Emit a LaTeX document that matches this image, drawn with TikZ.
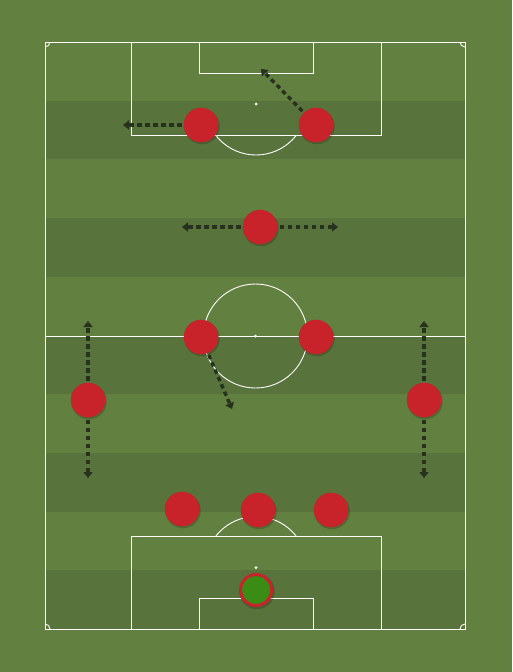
\documentclass[tikz,border=0pt]{standalone}
\usetikzlibrary{arrows.meta}
\definecolor{grassL}{HTML}{62803F}
\definecolor{grassD}{HTML}{58733C}
\definecolor{pred}{HTML}{C8222B}
\definecolor{gkgreen}{HTML}{3A8C14}
\definecolor{arrowc}{HTML}{26321E}
\tikzset{
  pitchline/.style={draw=white, line width=0.9pt},
  player/.style={circle, fill=pred, minimum size=34.6pt, inner sep=0pt},
  keeper/.style={circle, fill=gkgreen, draw=pred, line width=3pt, minimum size=31pt, inner sep=0pt},
  shade/.style={circle, fill=black, opacity=0.18, minimum size=35.5pt, inner sep=0pt},
  run/.style={draw=arrowc, line width=3.4pt, dash pattern=on 4.5pt off 3.5pt,
     -{Triangle[length=6pt,width=9pt]}, shorten <=2pt},
  spot/.style={circle, fill=white, minimum size=3pt, inner sep=0pt}
}
\begin{document}
\begin{tikzpicture}[x=1pt,y=-1pt]
\useasboundingbox (0,0) rectangle (512,672);
\fill[grassL] (0,0) rectangle (512,672);
% stripes
\foreach \i in {1,3,5,7,9}{
  \fill[grassD] (45,{42+\i*58.7}) rectangle (465,{42+(\i+1)*58.7});
}
% outer lines
\draw[pitchline] (45,42) rectangle (465,629);
\draw[pitchline] (45,336) -- (465,336);
\draw[pitchline] (255.5,336) circle[radius=52pt];
\node[spot] (cs) at (255.5,336) {};
% top boxes
\draw[pitchline] (131,42) rectangle (381,135);
\draw[pitchline] (199,42) rectangle (313,73);
\node[spot] (ts) at (256,104) {};
\begin{scope}
  \clip (45,135) rectangle (465,220);
  \draw[pitchline] (256,104) circle[radius=51pt];
\end{scope}
% bottom boxes
\draw[pitchline] (131,536) rectangle (381,629);
\draw[pitchline] (199,598) rectangle (313,629);
\node[spot] (bs) at (256,567.5) {};
\begin{scope}
  \clip (45,450) rectangle (465,536);
  \draw[pitchline] (256,567.5) circle[radius=51pt];
\end{scope}
% corner arcs
\begin{scope}
  \clip (45,42) rectangle (465,629);
  \draw[pitchline] (45,42) circle[radius=5pt];
  \draw[pitchline] (465,42) circle[radius=5pt];
  \draw[pitchline] (45,629) circle[radius=5pt];
  \draw[pitchline] (465,629) circle[radius=5pt];
\end{scope}
% shadows
\foreach \x/\y in {201/125,316/125,260/227,201/337,316/337,88/400,424/400,182/509,258/510,331/510,256/590}{
  \node[shade] at (\x+1,\y+1.5) {};
}
% players
\node[player] (p1) at (201,125) {};
\node[player] (p2) at (316,125) {};
\node[player] (p3) at (260,227) {};
\node[player] (p4) at (201,337) {};
\node[player] (p5) at (316,337) {};
\node[player] (p6) at (88,400) {};
\node[player] (p7) at (424,400) {};
\node[player] (p8) at (182,509) {};
\node[player] (p9) at (258,510) {};
\node[player] (p10) at (331,510) {};
\node[keeper] (gk) at (256,590) {};
% arrow targets
\coordinate (t1) at (123,125);
\coordinate (t2) at (261,69);
\coordinate (t3l) at (182,227);
\coordinate (t3r) at (338,227);
\coordinate (t4) at (232,409);
\coordinate (t6u) at (88,321);
\coordinate (t6d) at (88,478);
\coordinate (t7u) at (424,321);
\coordinate (t7d) at (424,478);
% runs
\draw[run] (p1) -- (t1);
\draw[run] (p2) -- (t2);
\draw[run] (p3) -- (t3l);
\draw[run] (p3) -- (t3r);
\draw[run] (p4) -- (t4);
\draw[run] (p6) -- (t6u);
\draw[run] (p6) -- (t6d);
\draw[run] (p7) -- (t7u);
\draw[run] (p7) -- (t7d);
\end{tikzpicture}
\end{document}
